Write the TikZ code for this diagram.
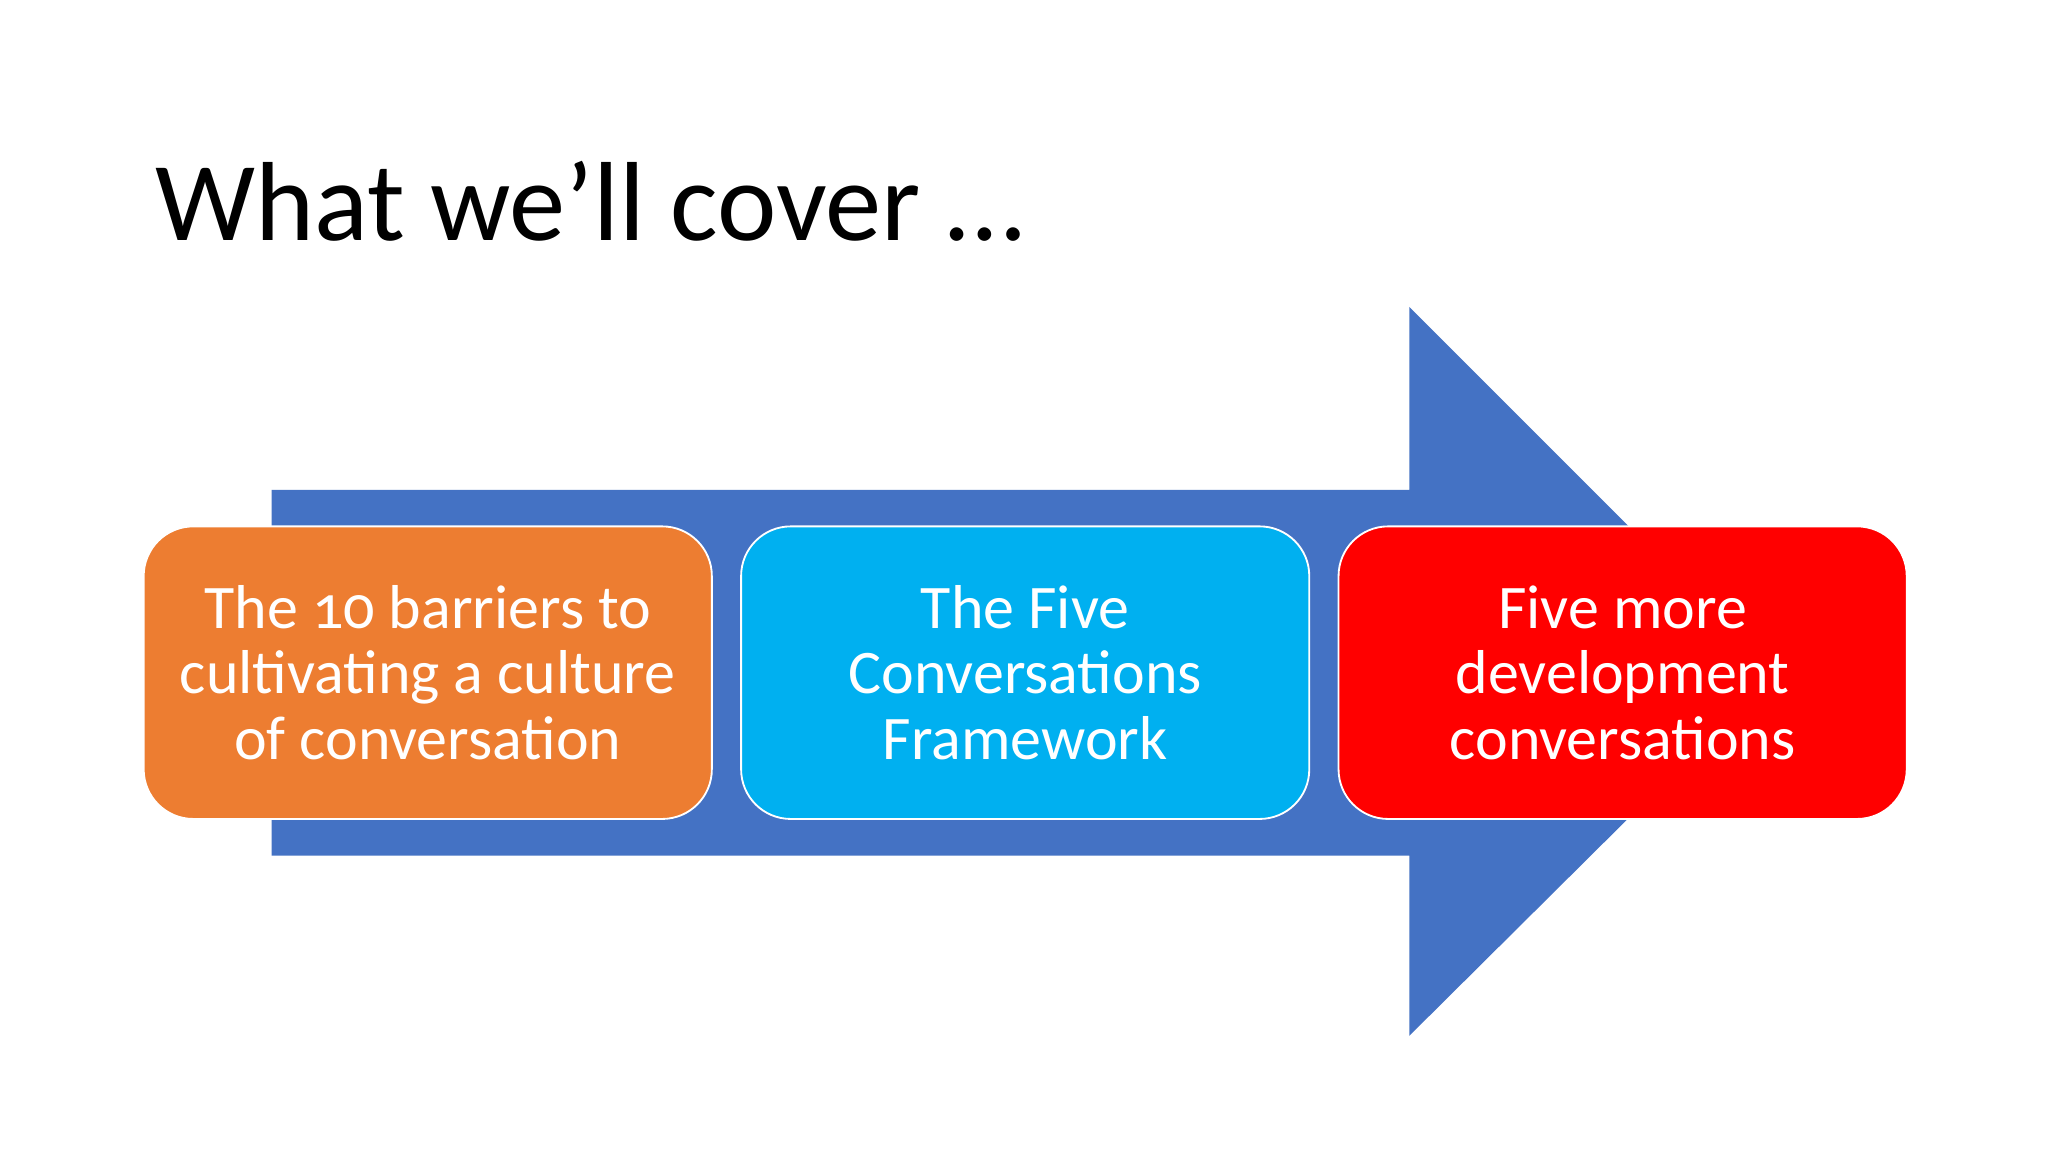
\documentclass[tikz,border=0pt]{standalone}
\usepackage{fontspec}
\setmainfont{Carlito}[Numbers=OldStyle]
\usetikzlibrary{positioning}
\definecolor{arrowblue}{HTML}{4472C4}
\definecolor{boxorange}{HTML}{ED7D31}
\definecolor{boxcyan}{HTML}{00B0F0}
\definecolor{boxred}{HTML}{FF0000}
\begin{document}
\begin{tikzpicture}
\tikzstyle{stage}=[rectangle,rounded corners=0.38cm,draw=white,thin,
minimum width=4.35cm,minimum height=2.24cm,inner sep=2pt,
text=white,align=center,font=\fontsize{13.5}{14.3}\selectfont]
\useasboundingbox (0,0) rectangle (15.68,8.82);
\fill[white] (0,0) rectangle (15.68,8.82);
% title
\node[anchor=base west,inner sep=0pt,font=\fontsize{24.5}{28}\selectfont] (title) at (1.18,6.98) {What we’ll cover …};
% big arrow
\fill[arrowblue] (2.08,5.07) -- (10.79,5.07) -- (10.79,6.47) -- (13.59,3.67)
  -- (10.79,0.89) -- (10.79,2.27) -- (2.08,2.27) -- cycle;
% stages
\node[stage,fill=boxorange] at (3.275,3.67) (barriers) {The 10 barriers to\\cultivating a culture\\of conversation};
\node[stage,fill=boxcyan,right=0.21cm of barriers] (framework) {The Five\\Conversations\\Framework};
\node[stage,fill=boxred,right=0.21cm of framework] (more) {Five more\\development\\conversations};
\end{tikzpicture}
\end{document}
